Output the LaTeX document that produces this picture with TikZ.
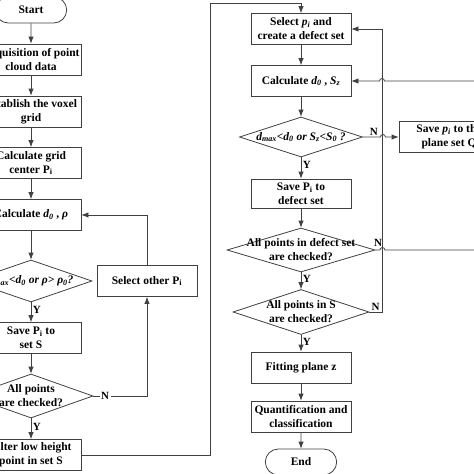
\documentclass[tikz,border=0pt]{standalone}
\usepackage{fontspec}
\setmainfont{Liberation Serif}
\usetikzlibrary{arrows,arrows.meta,shapes.geometric,shapes.misc,positioning}

\begin{document}
\begin{tikzpicture}[->, >={Latex[length=7pt,width=5.5pt]}, line width=0.8pt, draw=black!75,
  font=\bfseries\fontsize{11.5}{14}\selectfont,
  box/.style = {draw, rectangle, minimum width=100pt, minimum height=31pt, align=center, inner sep=1pt},
  term/.style = {draw, rounded rectangle, minimum width=78pt, minimum height=26pt},
  dec/.style = {draw, diamond, inner sep=0pt},
  txt/.style = {align=center, inner sep=0pt},
  lbl/.style = {inner sep=1.5pt, font=\bfseries\fontsize{11}{13}\selectfont},
  node distance = 52pt]

\useasboundingbox (0,0) rectangle (474pt,-474pt);

% left column
\node[term] (start) at (31pt,-10pt) {Start};
\node[box] (acq) [below of=start, node distance=49.5pt] {Acquisition of point\\cloud data};
\node[box] (vox) [below of=acq] {Establish the voxel\\grid};
\node[box] (grid) [below of=vox, node distance=51.5pt] {Calculate grid\\center P\textsubscript{i}};
\node[box] (calc) [below of=grid] {Calculate \textit{d\textsubscript{0}} , \textit{ρ}};
\node[dec, minimum width=122pt, minimum height=42pt] (dec1) [below of=calc, node distance=66pt] {};
\node[txt] at (dec1) {\textit{d\textsubscript{max}<d\textsubscript{0} or ρ> ρ\textsubscript{0}?}};
\node[box] (saves) [below of=dec1, node distance=57pt] {Save P\textsubscript{i} to\\set S};
\node[dec, minimum width=124pt, minimum height=44pt] (dec2) [below of=saves, node distance=58pt] {};
\node[txt] at (dec2) {All points\\are checked?};
\node[box] (filt) [below of=dec2, node distance=59pt] {Filter low height\\point in set S};
\node[box] (othr) [right of=dec1, node distance=116pt] {Select other P\textsubscript{i}};

% right column
\node[box] (sel) at (301pt,-29pt) {Select \textit{p\textsubscript{i}} and\\create a defect set};
\node[box] (calcz) [below of=sel] {Calculate \textit{d\textsubscript{0}} , \textit{S\textsubscript{z}}};
\node[dec, minimum width=123pt, minimum height=40pt] (dec3) [below of=calcz, node distance=56pt] {};
\node[txt] at (dec3) {\textit{d\textsubscript{max}<d\textsubscript{0} or S\textsubscript{z}<S\textsubscript{0} ?}};
\node[box] (saveq) [right of=dec3, node distance=148pt] {Save \textit{p\textsubscript{i}} to the\\plane set Q};
\node[box, minimum height=29pt] (saved) [below of=dec3, node distance=56.5pt] {Save P\textsubscript{i} to\\defect set};
\node[dec, minimum width=148pt, minimum height=44pt] (dec4) [below of=saved, node distance=56.5pt] {};
\node[txt] at (dec4) {All points in defect set\\are checked?};
\node[dec, minimum width=136pt, minimum height=45pt] (dec5) [below of=dec4, node distance=62pt] {};
\node[txt] at (dec5) {All points in S\\are checked?};
\node[box] (fit) [below of=dec5, node distance=55.5pt] {Fitting plane z};
\node[box] (quant) [below of=fit, node distance=49pt] {Quantification and\\classification};
\node[term] (end) [below of=quant, node distance=45.5pt] {End};

\coordinate (lft) at (210pt,-3pt);
\coordinate (bus) at (382pt,0pt);
\coordinate (rgt) at (490pt,0pt);

\path (start) edge (acq);
\path (acq) edge (vox);
\path (vox) edge (grid);
\path (grid) edge (calc);
\path (calc) edge (dec1);
\path (dec1) edge node[lbl, right, pos=0.4] {Y} (saves);
\path (saves) edge (dec2);
\path (dec2) edge node[lbl, right, pos=0.4] {Y} (filt);
\draw (othr.north) |- (calc.east);
\draw (dec2.east) -- node[lbl, fill=white, pos=0.22] {N} (othr.south|-dec2.east) -- (othr.south);
\draw (filt.east) -- (lft|-filt.east) -- (lft) -- (lft-|sel.north) -- (sel.north);

\path (sel) edge (calcz);
\path (calcz) edge (dec3);
\path (dec3) edge node[lbl, right, pos=0.35] {Y} (saved);
\path (saved) edge (dec4);
\path (dec4) edge node[lbl, right, pos=0.4] {Y} (dec5);
\path (dec5) edge node[lbl, right, pos=0.4] {Y} (fit);
\path (fit) edge (quant);
\path (quant) edge (end);

\draw (dec3.east) -- node[lbl, above, pos=0.63] {N} ++(17.5pt,0) arc[start angle=180, end angle=0, radius=2.5pt] -- (saveq.west|-dec3.east);
\draw (dec4.east) -- node[lbl, above, pos=0.6, yshift=2pt] {N} ++(4.5pt,0) arc[start angle=180, end angle=0, radius=2.5pt] -- (rgt|-dec4.east) -- (rgt|-calcz.east) -- ++(-105.5pt,0) arc[start angle=0, end angle=180, radius=2.5pt] -- (calcz.east);
\draw (dec5.east) -- node[lbl, above] {N} (bus|-dec5.east) -- (bus|-sel.east) -- (sel.east);

\end{tikzpicture}
\end{document}
